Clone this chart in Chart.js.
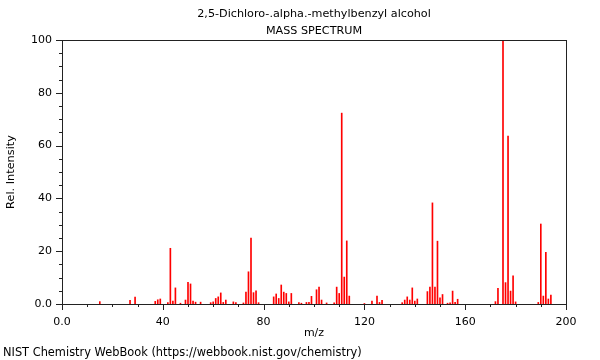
<!DOCTYPE html>
<html>
<head>
<meta charset="utf-8">
<script src="https://cdn.jsdelivr.net/npm/chart.js@4"></script>
<style>
  html, body { margin: 0; padding: 0; background: #fff; }
  #wrap { width: 600px; height: 360px; }
</style>
</head>
<body>
<div id="wrap"><canvas id="ms"></canvas></div>
<script>
// Peak list (m/z, relative intensity %)
const mz = [15, 27, 29, 37, 38, 39, 42, 43, 44, 45, 47, 49, 50, 51, 52, 53, 55, 59, 60, 61,
  62, 63, 64, 65, 68, 69, 72, 73, 74, 75, 76, 77, 78, 84, 85, 86, 87, 88, 89, 90,
  91, 94, 95, 97, 98, 99, 101, 102, 103, 105, 108, 109, 110, 111, 112, 113, 114, 120, 123, 125,
  126, 127, 135, 136, 137, 138, 139, 140, 141, 145, 146, 147, 148, 149, 150, 151, 153, 154, 155, 156,
  157, 172, 173, 175, 176, 177, 178, 179, 180, 189, 190, 191, 192, 193, 194];
const intensity = [0.9, 1.4, 2.6, 1.0, 1.6, 1.9, 0.5, 21.1, 1.1, 6.1, 0.3, 1.5, 8.2, 7.6, 1.1, 0.7, 0.7, 0.5, 0.8, 2.1,
  2.7, 4.2, 0.6, 1.5, 0.8, 0.5, 0.4, 4.5, 12.2, 25.0, 4.3, 5.0, 0.5, 2.7, 3.8, 2.1, 7.2, 4.5, 4.0, 0.8,
  4.0, 0.5, 0.3, 0.6, 0.6, 2.9, 5.4, 6.4, 1.5, 0.4, 0.4, 6.4, 4.0, 72.3, 10.2, 23.9, 3.0, 0.2, 1.1, 3.0,
  0.6, 1.4, 0.5, 1.5, 2.7, 1.5, 6.1, 1.1, 1.9, 4.7, 6.4, 38.3, 6.4, 23.8, 2.3, 3.6, 0.3, 0.4, 4.9, 0.6,
  1.8, 0.9, 5.9, 100, 8.1, 63.6, 4.9, 10.7, 0.8, 0.6, 30.3, 3.0, 19.6, 1.9, 3.4];

const titleLines = ['2,5-Dichloro-.alpha.-methylbenzyl alcohol', 'MASS SPECTRUM'];
const footerText = 'NIST Chemistry WebBook (https://webbook.nist.gov/chemistry)';
const xLabelEvery = 40;   // labelled x ticks
const yLabelEvery = 20;   // labelled y ticks

const FONT = { family: 'DejaVu Sans', size: 11 };

// frame and tick marks, drawn from the scales
const framePlugin = {
    id: 'frame',
    afterDraw(chart) {
        const ctx = chart.ctx;
        const a = chart.chartArea;
        const xs = chart.scales.x, ys = chart.scales.y;
        ctx.save();
        ctx.strokeStyle = '#222';
        ctx.lineWidth = 1;
        ctx.beginPath();
        xs.ticks.forEach(function(t) {
            const px = Math.round(xs.getPixelForValue(t.value)) + 0.5;
            const len = (t.value % xLabelEvery === 0) ? 6 : 3;
            ctx.moveTo(px, a.bottom);
            ctx.lineTo(px, a.bottom + len);
        });
        ys.ticks.forEach(function(t) {
            const py = Math.round(ys.getPixelForValue(t.value)) + 0.5;
            const len = (t.value % yLabelEvery === 0) ? 6 : 3;
            ctx.moveTo(a.left, py);
            ctx.lineTo(a.left - len, py);
        });
        ctx.stroke();
        ctx.strokeRect(Math.round(a.left) + 0.5, Math.round(a.top) + 0.5,
            Math.round(a.right - a.left), Math.round(a.bottom - a.top));
        ctx.restore();
    }
};

new Chart(document.getElementById('ms'), {
    type: 'bar',
    data: {
        datasets: [{
            data: mz.map(function(m, i) { return { x: m, y: intensity[i] }; }),
            backgroundColor: '#ff0000',
            borderWidth: 0,
            barThickness: 1
        }]
    },
    options: {
        responsive: true,
        maintainAspectRatio: false,
        animation: false,
        layout: { padding: { left: 3, right: 34, top: 0, bottom: 0 } },
        plugins: {
            legend: { display: false },
            tooltip: { enabled: false },
            title: {
                display: true,
                text: titleLines,
                fullSize: false,
                color: '#000',
                font: { family: FONT.family, size: 11.2, lineHeight: 17 / 11.2, weight: 'normal' },
                padding: { top: 5.5, bottom: 0.5 }
            },
            subtitle: {
                display: true,
                position: 'bottom',
                align: 'start',
                text: footerText,
                color: '#000',
                font: { family: FONT.family, size: 11.4, lineHeight: 14 / 11.4 },
                padding: { top: 2.5, bottom: 0 }
            }
        },
        scales: {
            x: {
                type: 'linear',
                min: 0,
                max: 200,
                offset: false,
                grid: { display: false, drawTicks: false },
                border: { display: false },
                ticks: {
                    stepSize: 10,
                    autoSkip: false,
                    maxRotation: 0,
                    padding: 12,
                    color: '#000',
                    font: FONT,
                    callback: function(v) {
                        if (v % xLabelEvery !== 0) return '';
                        return v === 0 ? '0.0' : String(v);
                    }
                },
                title: {
                    display: true,
                    text: 'm/z',
                    color: '#000',
                    font: FONT,
                    padding: { top: 0, bottom: 3.5 }
                },
                afterFit: function(scale) { scale.height = 39.5; }
            },
            y: {
                min: 0,
                max: 100,
                grid: { display: false, drawTicks: false },
                border: { display: false },
                ticks: {
                    stepSize: 5,
                    autoSkip: false,
                    padding: 10,
                    color: '#000',
                    font: FONT,
                    callback: function(v) {
                        if (v % yLabelEvery !== 0) return '';
                        return v === 0 ? '0.0' : String(v);
                    }
                },
                title: {
                    display: true,
                    text: 'Rel. Intensity',
                    color: '#000',
                    font: { family: FONT.family, size: 11.3 },
                    padding: { top: 1, bottom: 0 }
                },
                afterFit: function(scale) { scale.width = 59; }
            }
        }
    },
    plugins: [framePlugin]
});
</script>
</body>
</html>
